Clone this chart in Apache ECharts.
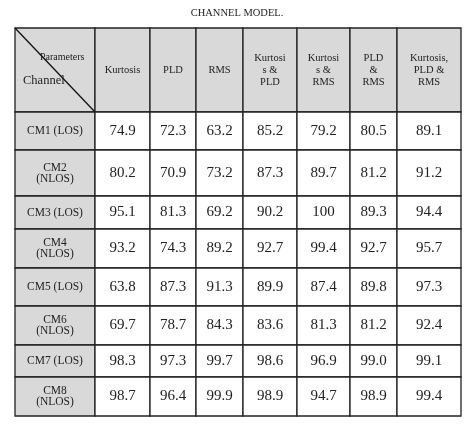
<!DOCTYPE html>
<html>
<head>
<meta charset="utf-8">
<script src="https://cdn.jsdelivr.net/npm/echarts@6/dist/echarts.min.js"></script>
<style>html,body{margin:0;padding:0;background:#fff}#main{width:474px;height:431px}</style>
</head>
<body>
<div id="main"></div>
<script>
// 表格数据
const channels = ['CM1 (LOS)', 'CM2\n(NLOS)', 'CM3 (LOS)', 'CM4\n(NLOS)', 'CM5 (LOS)', 'CM6\n(NLOS)', 'CM7 (LOS)', 'CM8\n(NLOS)'];
const params = ['Kurtosis', 'PLD', 'RMS', 'Kurtosi\ns &\nPLD', 'Kurtosi\ns &\nRMS', 'PLD\n&\nRMS', 'Kurtosis,\nPLD &\nRMS'];
const kurtosis = [74.9, 80.2, 95.1, 93.2, 63.8, 69.7, 98.3, 98.7];
const pld = [72.3, 70.9, 81.3, 74.3, 87.3, 78.7, 97.3, 96.4];
const rms = [63.2, 73.2, 69.2, 89.2, 91.3, 84.3, 99.7, 99.9];
const kurtPld = [85.2, 87.3, 90.2, 92.7, 89.9, 83.6, 98.6, 98.9];
const kurtRms = [79.2, 89.7, '100', 99.4, 87.4, 81.3, 96.9, 94.7];
const pldRms = [80.5, 81.2, 89.3, 92.7, 89.8, 81.2, '99.0', 98.9];
const allThree = [89.1, 91.2, 94.4, 95.7, 97.3, 92.4, 99.1, 99.4];

// 布局（像素）
const colEdges = [0, 80, 135, 181, 228, 282, 335, 382, 446];
const rowEdges = [0, 84, 122, 168, 201, 240, 278, 317, 349, 388];

const columns = [kurtosis, pld, rms, kurtPld, kurtRms, pldRms, allThree];
const cells = [];
cells.push({value: [0, 0], kind: 'corner'});
params.forEach((p, c) => cells.push({value: [0, c + 1], kind: 'head', text: p}));
channels.forEach((ch, r) => {
    cells.push({value: [r + 1, 0], kind: 'row', text: ch});
    columns.forEach((col, c) => cells.push({value: [r + 1, c + 1], kind: 'val', text: String(col[r])}));
});

const serif = 'Liberation Serif';

function renderItem(params, api) {
    const d = cells[params.dataIndex];
    const r = api.value(0), c = api.value(1);
    const p0 = api.coord([colEdges[c], rowEdges[r]]);
    const p1 = api.coord([colEdges[c + 1], rowEdges[r + 1]]);
    const w = p1[0] - p0[0], h = p1[1] - p0[1];
    const gray = d.kind !== 'val';
    const children = [{
        type: 'rect',
        shape: {x: p0[0], y: p0[1], width: w, height: h},
        style: {fill: gray ? '#d9d9d9' : '#fff', stroke: '#222', lineWidth: 1.3}
    }];
    const cx = p0[0] + w / 2, cy = p0[1] + h / 2;
    if (d.kind === 'corner') {
        children.push({type: 'line', shape: {x1: p0[0], y1: p0[1], x2: p1[0], y2: p1[1]}, style: {stroke: '#111', lineWidth: 1.3}});
        children.push({type: 'text', style: {x: p0[0] + 25, y: p0[1] + 29, text: 'Parameters', font: '10px "' + serif + '"', fill: '#222', align: 'left', verticalAlign: 'middle'}});
        children.push({type: 'text', style: {x: p0[0] + 8, y: p0[1] + 53, text: 'Channel', font: '12.5px "' + serif + '"', fill: '#222', align: 'left', verticalAlign: 'middle'}});
    } else {
        const font = d.kind === 'val' ? '15px "' + serif + '"' : (d.kind === 'row' ? '11.5px "' + serif + '"' : '10.5px "' + serif + '"');
        children.push({type: 'text', style: {x: cx, y: cy, text: d.text, font: font, fill: '#222', align: 'center', verticalAlign: 'middle', lineHeight: d.kind === 'val' ? 16 : (d.kind === 'head' ? 12 : 11)}});
    }
    return {type: 'group', children: children};
}

const chart = echarts.init(document.getElementById('main'));
chart.setOption({
    animation: false,
    title: {text: 'CHANNEL MODEL.', left: 'center', top: 3, textStyle: {fontFamily: serif, fontSize: 10.5, fontWeight: 'normal', color: '#222'}},
    grid: {left: 15, top: 28, width: 446, height: 388},
    xAxis: {type: 'value', min: 0, max: 446, show: false},
    yAxis: {type: 'value', min: 0, max: 388, inverse: true, show: false},
    series: [{type: 'custom', renderItem: renderItem, data: cells, encode: {x: 1, y: 0}}]
});
</script>
</body>
</html>
